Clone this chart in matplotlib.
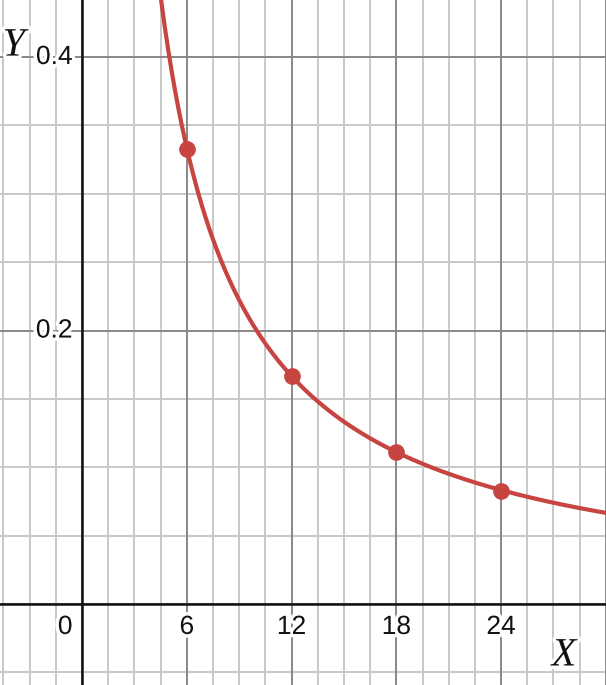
import numpy as np
import matplotlib
matplotlib.use("Agg")
import matplotlib.pyplot as plt
import matplotlib.patheffects as pe

# points marked on the curve
point_x = [6, 12, 18, 24]
point_y = [0.333, 0.167, 0.111, 0.083]
k = 2.0

x_labels = [0, 6, 12, 18, 24]
y_labels = [0.2, 0.4]

xlim = (-4.70, 30.01)
ylim = (-0.0592, 0.4417)

red = "#c74440"

fig = plt.figure(figsize=(6.06, 6.85), dpi=100)
ax = fig.add_axes([0, 0, 1, 1])
ax.set_xlim(*xlim)
ax.set_ylim(*ylim)
ax.axis("off")

# minor grid
for xv in np.arange(-4.5, 30.1, 1.5):
    ax.axvline(xv, color="#c8c8c8", lw=1.4, zorder=1)
for yv in np.arange(-0.05, 0.45, 0.05):
    ax.axhline(yv, color="#c8c8c8", lw=1.4, zorder=1)
# major grid
for xv in np.arange(-6, 31, 6):
    ax.axvline(xv, color="#8a8a8a", lw=1.4, zorder=2)
for yv in np.arange(-0.2, 0.45, 0.2):
    ax.axhline(yv, color="#8a8a8a", lw=1.4, zorder=2)
# axes
ax.axvline(0, color="#111111", lw=1.8, zorder=3)
ax.axhline(0, color="#111111", lw=1.8, zorder=3)

halo = [pe.withStroke(linewidth=5, foreground="white")]
tick_font = dict(fontsize=19, family=["Liberation Sans", "DejaVu Sans"], color="#111111",
                 path_effects=halo, zorder=4)
for xv in x_labels:
    if xv == 0:
        ax.text(-0.55, -0.008, "0", ha="right", va="top", **tick_font)
    else:
        ax.text(xv, -0.008, str(xv), ha="center", va="top", **tick_font)
for yv in y_labels:
    ax.text(-0.55, yv, f"{yv:.1f}", ha="right", va="center", **tick_font)

ax.text(-4.55, 0.408, "Y", fontsize=29, style="italic", family="Liberation Serif",
        ha="left", va="center", path_effects=halo, zorder=4, color="#111111")
ax.text(27.6, -0.038, "X", fontsize=29, style="italic", family="Liberation Serif",
        ha="center", va="center", path_effects=halo, zorder=4, color="#111111")

# curve and points
cx = np.linspace(k / ylim[1], xlim[1] + 0.5, 400)
ax.plot(cx, k / cx, color=red, lw=3.0, zorder=5, solid_capstyle="round")
ax.plot(point_x, point_y, "o", color=red, markersize=11, zorder=6)

fig.savefig("out.png", dpi=100)
